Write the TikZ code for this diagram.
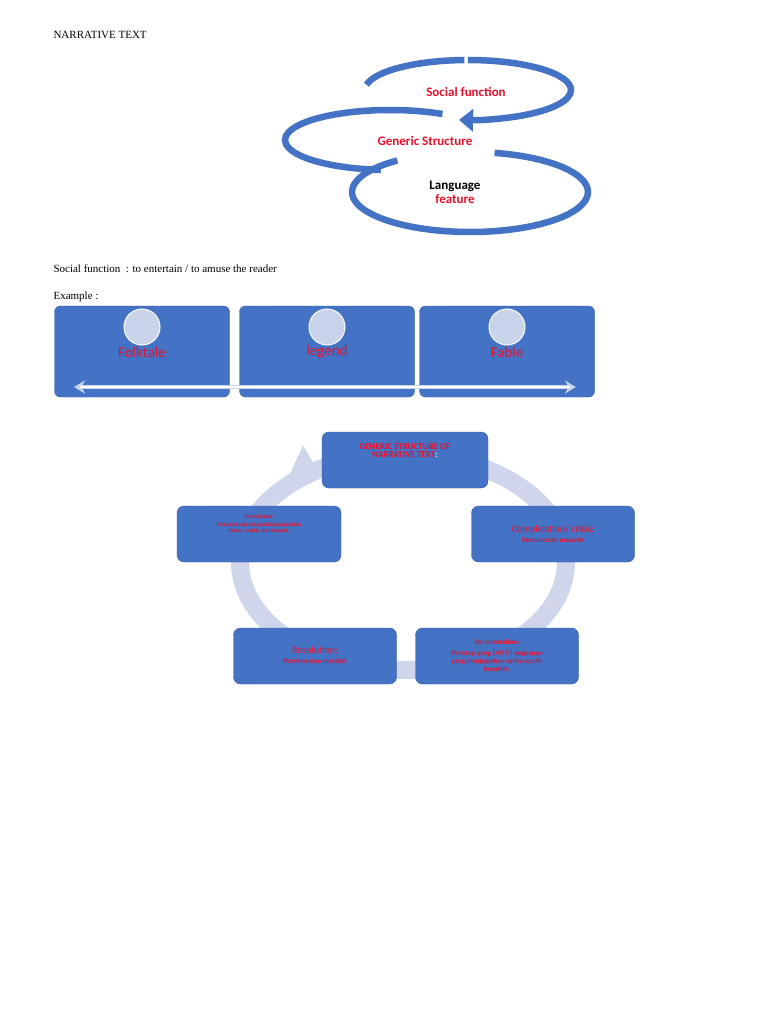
\documentclass[tikz,border=0pt]{standalone}
\usepackage{fontspec}
\setmainfont{Liberation Serif}
\newfontfamily\calib{Carlito}
\usetikzlibrary{arrows.meta,shapes.geometric}
\definecolor{wordblue}{HTML}{4472C4}
\definecolor{ringgray}{HTML}{CFD5EA}
\definecolor{dotfill}{HTML}{C9D3EA}
\definecolor{wordred}{HTML}{E8102A}
\newcommand\swirlwidth{6.5pt}
\tikzset{
  swirl/.style={draw=wordblue, line width=\swirlwidth},
  swirltext/.style={font=\calib\bfseries\fontsize{13}{14}\selectfont, text=wordred},
  bodytext/.style={anchor=west, font=\fontsize{11}{13}\selectfont},
  examplebox/.style={draw=wordblue!80!black, fill=wordblue, rounded corners=6pt,
    minimum width=175pt, minimum height=91pt},
  exampledot/.style={circle, draw=white, fill=dotfill, minimum size=36pt, line width=1pt},
  examplelabel/.style={font=\calib\fontsize{15}{17}\selectfont, text=wordred},
  cyclebox/.style={draw=wordblue!80!black, fill=wordblue, rounded corners=7pt,
    minimum width=165pt, minimum height=56pt, align=center, text=wordred,
    font=\calib\bfseries\fontsize{7}{8}\selectfont}
}
\begin{document}
\begin{tikzpicture}[x=1pt, y=-1pt]
  \useasboundingbox[fill=white] (0,0) rectangle (768,1024);
  \node[bodytext] (title) at (50,35) {NARRATIVE TEXT};

  % swirl of three loops
  \draw[swirl] (468,90) ++(190:103 and 30) arc[start angle=190, end angle=268, x radius=103, y radius=30];
  \draw[swirl, -{Triangle[length=14pt, width=22pt]}] (468,90) ++(270:103 and 30)
    arc[start angle=270, end angle=455, x radius=103, y radius=30];
  \draw[swirl] (390,140) ++(300:105 and 30) arc[start angle=300, end angle=95, x radius=105, y radius=30];
  \draw[swirl] (470,192) ++(232:118 and 40) arc[start angle=232, end angle=-78, x radius=118, y radius=40];
  \node[swirltext] (social) at (466,92) {Social function};
  \node[swirltext] (generic) at (425,141) {Generic Structure};
  \node[swirltext, text=black] (language) at (455,186) {Language};
  \node[swirltext] (feature) at (455,199) {feature};

  \node[bodytext] (function) at (50,269) {Social function\ \ : to entertain / to amuse the reader};
  \node[bodytext] (example) at (50,297) {Example :};

  % examples
  \foreach \name/\cx/\label in {folktale/142/Folktale, legend/327/legend, fable/507/Fable} {
    \node[examplebox] (\name) at (\cx,351.5) {};
    \node[exampledot] (\name dot) at (\cx,327) {};
    \node[examplelabel] (\name text) at (\cx,352) {\label};
  }
  \coordinate (arrowleft) at (74,387);
  \coordinate (arrowright) at (576,387);
  \draw[draw=dotfill, line width=4.5pt, {Stealth[length=11pt,width=13pt]}-{Stealth[length=11pt,width=13pt]}] (arrowleft) -- (arrowright);
  \draw[draw=white, line width=2pt, shorten <=6pt, shorten >=6pt] (arrowleft) -- (arrowright);

  % cycle
  \draw[draw=ringgray, line width=18pt] (403,562) ellipse[x radius=163, y radius=108];
  \node[fill=ringgray, isosceles triangle, isosceles triangle apex angle=70, minimum size=26pt,
    rotate=-25, inner sep=0pt] (cyclehead) at (304,466) {};
  \node[cyclebox, minimum width=166pt] (gs) at (405,460)
    {\fontsize{9}{10}\selectfont GENERIC STRUCTURE OF\\\fontsize{9}{10}\selectfont NARRATIVE TEXT\textcolor{white}{:}\\[10pt]};
  \node[cyclebox, minimum width=163pt] (complication) at (553,534)
    {\mdseries\fontsize{10}{11}\selectfont Complication/ crisis:\\[2pt]Pemunculan masalah};
  \node[cyclebox, minimum width=163pt] (reorientation) at (497,656)
    {Re-orientation:\\[3pt]Penutup yang {\mdseries\fontsize{9}{9}\selectfont berisi} ungkapan\\yang menjujukkan cerita sudAh\\berakhir.};
  \node[cyclebox, minimum width=163pt] (resolution) at (315,656)
    {\mdseries\fontsize{10}{11}\selectfont Resolution:\\[2pt]Penyelesaian masalah};
  \node[cyclebox, minimum width=164pt, font=\calib\bfseries\fontsize{5.5}{6.5}\selectfont] (orientation) at (259,534)
    {Orientation:\\[1pt]Pendahuluan yang berisi pengenalan\\tokoh, waktu, dan tempat.\\[14pt]};
\end{tikzpicture}
\end{document}
